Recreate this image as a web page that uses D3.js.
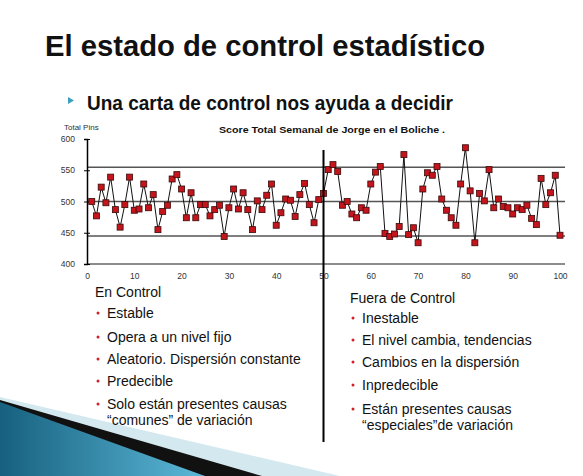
<!DOCTYPE html>
<html>
<head>
<meta charset="utf-8">
<script src="https://cdn.jsdelivr.net/npm/d3@7"></script>
<style>
  html, body { margin: 0; padding: 0; background: #fff; }
  svg { display: block; }
</style>
</head>
<body>
<div id="chart"></div>
<script>
// weekly bowling scores, weeks 1..100
const weeks = d3.range(1, 101);
const scores = [
  500, 477, 523, 498, 539, 487, 459, 495, 539, 486,
  488, 528, 490, 511, 455, 484, 494, 536, 543, 520,
  474, 514, 474, 495, 495, 477, 487, 494, 444, 490,
  520, 488, 514, 487, 455, 501, 487, 510, 528, 462,
  482, 504, 502, 476, 511, 529, 495, 466, 503, 513,
  551, 559, 548, 494, 500, 480, 474, 490, 486, 528,
  547, 556, 449, 444, 448, 460, 575, 447, 458, 434,
  520, 546, 542, 556, 504, 486, 474, 462, 528, 586,
  517, 434, 513, 501, 551, 490, 504, 492, 490, 480,
  490, 487, 494, 473, 463, 537, 495, 514, 542, 446
];
const limitValues = [555, 500, 445];   // UCL, CL, LCL
const yTicks = [400, 450, 500, 550, 600];
const xTicks = [0, 10, 20, 30, 40, 50, 60, 70, 80, 90, 100];

const inControl = [
  'Estable',
  'Opera a un nivel fijo',
  'Aleatorio. Dispersión constante',
  'Predecible',
  ['Solo están presentes causas', '“comunes” de variación']
];
const outControl = [
  'Inestable',
  'El nivel cambia, tendencias',
  'Cambios en la dispersión',
  'Inpredecible',
  ['Están presentes causas', '“especiales”de variación']
];

const W = 583, H = 476;
const font = '"Liberation Sans", Arial, sans-serif';

const svg = d3.select('#chart').append('svg')
  .attr('width', W)
  .attr('height', H)
  .style('font-family', font);

// bottom-left decoration
const defs = svg.append('defs');
const grad = defs.append('linearGradient').attr('id', 'teal')
  .attr('x1', '0%').attr('x2', '100%').attr('y1', '0%').attr('y2', '0%');
grad.append('stop').attr('offset', '0%').attr('stop-color', '#17607f');
grad.append('stop').attr('offset', '100%').attr('stop-color', '#5cb9d9');

const deco = svg.append('g');
deco.append('polygon').attr('points', '0,397 340,476 0,476').attr('fill', '#d3e8ef');
deco.append('polygon').attr('points', '0,400 262,476 0,476').attr('fill', '#111');
deco.append('polygon').attr('points', '0,402 205,476 0,476').attr('fill', 'url(#teal)');

// slide title
svg.append('text')
  .attr('x', 265).attr('y', 56)
  .attr('text-anchor', 'middle')
  .attr('font-size', 29).attr('font-weight', 'bold').attr('fill', '#111')
  .attr('textLength', 440).attr('lengthAdjust', 'spacingAndGlyphs')
  .text('El estado de control estadístico');

svg.append('path')
  .attr('d', 'M68,97 L74,100.5 L68,104 Z')
  .attr('fill', '#3a9fc0');
svg.append('text')
  .attr('x', 87).attr('y', 110)
  .attr('font-size', 20).attr('font-weight', 'bold').attr('fill', '#111')
  .attr('textLength', 366).attr('lengthAdjust', 'spacingAndGlyphs')
  .text('Una carta de control nos ayuda a decidir');

// chart
const x = d3.scaleLinear().domain([0, 100]).range([87, 560]);
const y = d3.scaleLinear().domain([400, 600]).range([264, 139]);

svg.append('text')
  .attr('x', 332).attr('y', 133)
  .attr('text-anchor', 'middle')
  .attr('font-size', 9.5).attr('font-weight', 'bold').attr('fill', '#111')
  .attr('textLength', 226).attr('lengthAdjust', 'spacingAndGlyphs')
  .text('Score Total Semanal de Jorge en el Boliche .');

svg.append('text')
  .attr('x', 64).attr('y', 130)
  .attr('font-size', 8).attr('fill', '#333')
  .text('Total Pins');

// x axis baseline and control limits
svg.append('line')
  .attr('x1', x(0)).attr('x2', 565)
  .attr('y1', y(400)).attr('y2', y(400))
  .attr('stroke', '#666').attr('stroke-width', 1.5);

svg.append('g').selectAll('line')
  .data(limitValues)
  .join('line')
  .attr('x1', x(0)).attr('x2', 565)
  .attr('y1', d => y(d)).attr('y2', d => y(d))
  .attr('stroke', '#555').attr('stroke-width', 1.5);

const yAxis = svg.append('g')
  .attr('transform', `translate(${x(0)},0)`)
  .call(d3.axisLeft(y).tickValues(yTicks).tickSize(3).tickPadding(9));
yAxis.select('.domain').attr('stroke', '#000').attr('stroke-width', 1.5);
yAxis.selectAll('.tick line').clone().attr('x2', 3);
yAxis.selectAll('text').attr('font-size', 8.5).attr('fill', '#333').attr('font-family', font);

const xAxis = svg.append('g')
  .attr('transform', `translate(0,${y(400)})`)
  .call(d3.axisBottom(x).tickValues(xTicks).tickSize(0).tickPadding(9));
xAxis.select('.domain').remove();
xAxis.selectAll('text').attr('font-size', 8.5).attr('fill', '#333').attr('font-family', font);

// series
const pts = weeks.map((w, i) => [w, scores[i]]);
svg.append('path')
  .datum(pts)
  .attr('fill', 'none')
  .attr('stroke', '#111')
  .attr('stroke-width', 1)
  .attr('d', d3.line().x(d => x(d[0])).y(d => y(d[1])));

svg.append('g').selectAll('rect')
  .data(pts)
  .join('rect')
  .attr('x', d => x(d[0]) - 3).attr('y', d => y(d[1]) - 3)
  .attr('width', 6).attr('height', 6)
  .attr('fill', '#c4151c')
  .attr('stroke', '#3a0a0a').attr('stroke-width', 0.8);

// separator between in-control and out-of-control
svg.append('line')
  .attr('x1', x(50)).attr('x2', x(50))
  .attr('y1', 150).attr('y2', 442)
  .attr('stroke', '#000').attr('stroke-width', 2);

// two text columns
function column(xPos, head, headY, items, ys) {
  const g = svg.append('g');
  g.append('text')
    .attr('x', xPos).attr('y', headY)
    .attr('font-size', 14).attr('fill', '#111')
    .text(head);
  items.forEach((item, i) => {
    const lines = Array.isArray(item) ? item : [item];
    g.append('circle')
      .attr('cx', xPos + 3).attr('cy', ys[i] - 5)
      .attr('r', 1.5).attr('fill', '#d0202a');
    lines.forEach((t, j) => {
      g.append('text')
        .attr('x', xPos + 12).attr('y', ys[i] + j * 16)
        .attr('font-size', 14).attr('fill', '#111')
        .text(t);
    });
  });
}

column(95, 'En Control', 297, inControl, [318, 342, 364, 386, 409]);
column(350, 'Fuera de Control', 303, outControl, [323, 345, 367, 390, 414]);
</script>
</body>
</html>
